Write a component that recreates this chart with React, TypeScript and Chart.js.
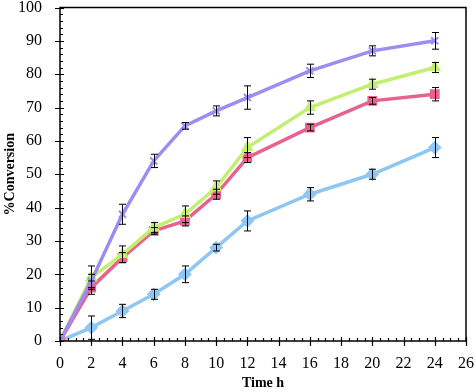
import React, { useEffect, useRef } from 'react';
import { Chart, registerables } from 'chart.js';

Chart.register(...registerables);

const times = [0, 2, 4, 6, 8, 10, 12, 16, 20, 24];

const purpleValues = [0, 18, 38, 54, 64.5, 69, 73, 81, 87, 90];
const purpleErrors = [0, 2, 3, 2, 1, 1.5, 3.5, 2, 1.5, 2.5];

const greenValues = [0, 19, 26, 34, 38, 46, 58, 70, 77, 82];
const greenErrors = [0, 3.5, 2.5, 1.5, 2.5, 2, 3, 2, 1.5, 1.5];

const pinkValues = [0, 16, 25, 33, 36, 44, 55, 64, 72, 74];
const pinkErrors = [0, 2, 1.5, 1, 1.5, 1.5, 1.5, 1, 1, 2];

const blueValues = [0, 4, 9, 14, 20, 28, 36, 44, 50, 58];
const blueErrors = [0, 3.5, 2, 1.5, 2.5, 1, 3, 2, 1.5, 3];

const xTitle = 'Time h';
const yTitle = '%Conversion';

const FONT = "'Liberation Serif', 'Times New Roman', serif";

function toPoints(values: number[]) {
  return times.map((t, i) => ({ x: t, y: values[i] }));
}

const errorSets = [purpleErrors, greenErrors, pinkErrors, blueErrors];

const framePlugin = {
  id: 'frameAndErrors',
  afterDatasetsDraw(chart: any) {
    const ctx = chart.ctx;
    const xs = chart.scales.x;
    const ys = chart.scales.y;
    const area = chart.chartArea;
    ctx.save();
    ctx.strokeStyle = '#000';
    ctx.lineWidth = 1;
    chart.data.datasets.forEach((ds: any, di: number) => {
      const errs = errorSets[di];
      ds.data.forEach((p: any, i: number) => {
        const e = errs[i];
        if (!e) return;
        const px = Math.round(xs.getPixelForValue(p.x)) + 0.5;
        const top = ys.getPixelForValue(p.y + e);
        const bot = ys.getPixelForValue(p.y - e);
        ctx.beginPath();
        ctx.moveTo(px, top);
        ctx.lineTo(px, bot);
        ctx.moveTo(px - 3.5, top);
        ctx.lineTo(px + 3.5, top);
        ctx.moveTo(px - 3.5, bot);
        ctx.lineTo(px + 3.5, bot);
        ctx.stroke();
      });
    });
    ctx.lineWidth = 1.5;
    ctx.strokeRect(area.left, area.top, area.right - area.left, area.bottom - area.top);
    ctx.lineWidth = 1.2;
    ctx.beginPath();
    for (let v = 0; v <= 100; v += 2) {
      const py = Math.round(ys.getPixelForValue(v)) + 0.5;
      if (v % 10 === 0) {
        ctx.moveTo(area.left - 5, py);
        ctx.lineTo(area.left + 4, py);
      } else {
        ctx.moveTo(area.left, py);
        ctx.lineTo(area.left + 3, py);
      }
    }
    for (let t = 0; t <= 26; t += 0.5) {
      const px = Math.round(xs.getPixelForValue(t)) + 0.5;
      if (t % 2 === 0) {
        ctx.moveTo(px, area.bottom + 5);
        ctx.lineTo(px, area.bottom - 4);
      } else {
        ctx.moveTo(px, area.bottom);
        ctx.lineTo(px, area.bottom - 3);
      }
    }
    ctx.stroke();
    ctx.restore();
  },
};

export default function App() {
  const canvasRef = useRef<HTMLCanvasElement | null>(null);

  useEffect(() => {
    document.body.style.margin = '0';
    const canvas = canvasRef.current;
    if (!canvas) return;

    const mk = (label: string, values: number[], color: string, style: any, radius: number) => ({
      label,
      data: toPoints(values),
      borderColor: color,
      backgroundColor: color,
      borderWidth: 3.5,
      pointStyle: style,
      pointRadius: radius,
      pointBackgroundColor: color,
      pointBorderColor: color,
      pointBorderWidth: 2,
      tension: 0,
      fill: false,
    });

    const chart = new Chart(canvas, {
      type: 'line',
      data: {
        datasets: [
          mk('A', purpleValues, '#9d8cf2', 'crossRot', 5),
          mk('B', greenValues, '#c3ee70', 'triangle', 5.5),
          mk('C', pinkValues, '#e8628e', 'rect', 5.5),
          mk('D', blueValues, '#8fc6f2', 'rectRot', 5.5),
        ],
      },
      options: {
        responsive: false,
        animation: false,
        devicePixelRatio: 1,
        layout: { padding: 0 },
        plugins: { legend: { display: false }, tooltip: { enabled: false } },
        scales: {
          x: {
            type: 'linear',
            min: 0,
            max: 26,
            grid: { display: false },
            border: { display: false },
            ticks: {
              stepSize: 2,
              color: '#000',
              padding: 8,
              maxRotation: 0,
              font: { family: FONT, size: 16, lineHeight: 0.9 },
            },
            title: {
              display: true,
              text: xTitle,
              color: '#000',
              padding: 0,
              font: { family: FONT, size: 14, weight: 'bold' },
            },
            afterFit: (s: any) => {
              s.height = 51;
              s.paddingLeft = 0;
              s.paddingRight = 8;
            },
          },
          y: {
            min: 0,
            max: 100,
            grid: { display: false },
            border: { display: false },
            ticks: {
              stepSize: 10,
              color: '#000',
              padding: 10,
              font: { family: FONT, size: 16, lineHeight: 0.9 },
            },
            title: {
              display: true,
              text: yTitle,
              color: '#000',
              padding: { top: 2, bottom: 0 },
              font: { family: FONT, size: 14, weight: 'bold' },
            },
            afterFit: (s: any) => {
              s.width = 60;
              s.paddingTop = 7;
              s.paddingBottom = 0;
            },
          },
        },
      },
      plugins: [framePlugin],
    } as any);

    return () => chart.destroy();
  }, []);

  return <canvas ref={canvasRef} width={474} height={392} style={{ display: 'block' }} />;
}
